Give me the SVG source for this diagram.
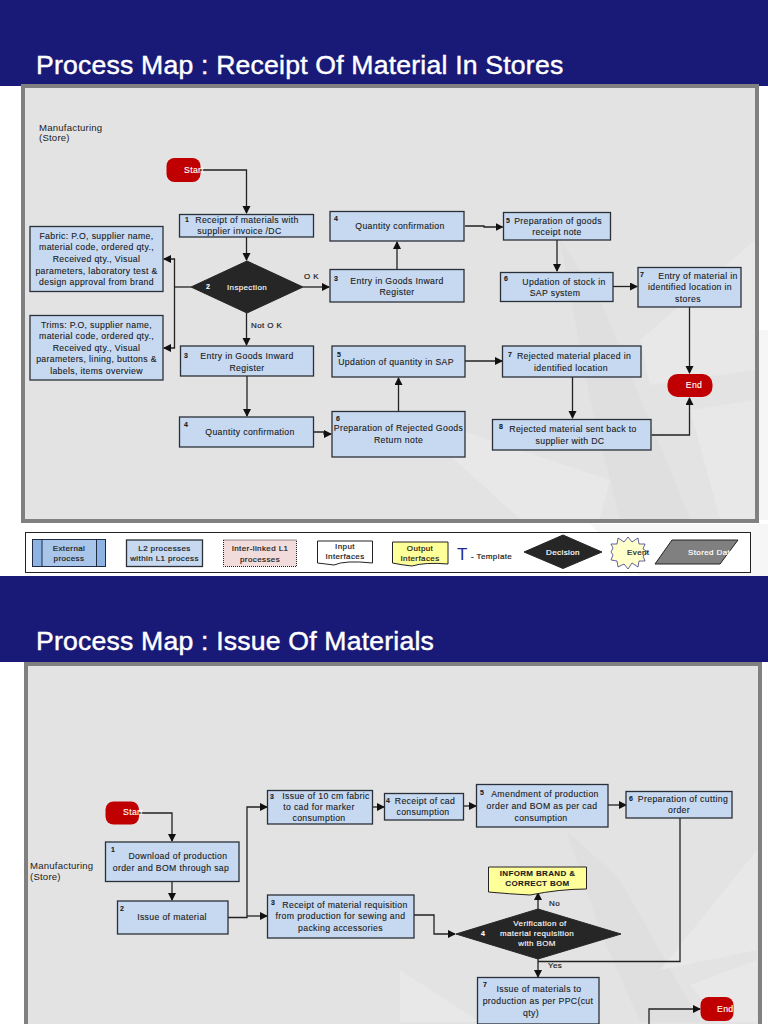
<svg xmlns="http://www.w3.org/2000/svg" width="768" height="1024" viewBox="0 0 768 1024">
<style>
text{font-family:"Liberation Sans",Arial,sans-serif;font-size:8.7px;fill:#1c1c1c;letter-spacing:.35px;stroke:#1c1c1c;stroke-width:.12px}
.c{text-anchor:middle}
.n{font-size:7px;font-weight:bold;letter-spacing:0}
.w{fill:#fff;stroke:#fff}
.t{font-size:26.600px;fill:#fff;letter-spacing:.2px;stroke:#fff;stroke-width:.45px}
.l{font-size:8px;letter-spacing:.4px;stroke-width:.2px}
.m{font-size:9.600px;letter-spacing:.2px;stroke-width:0}
.b{fill:#c6d9f1;stroke:#2b3038;stroke-width:1.3}
.d{fill:#262626;stroke:#262626}
.r{fill:#c00000}
.line{fill:none;stroke:#222;stroke-width:1.3;marker-end:url(#a)}
.plain{fill:none;stroke:#222;stroke-width:1.3}
.panel{fill:#e3e3e3;stroke:#808080;stroke-width:4}
.band{fill:#191978}
.shard{fill:#e8e8e8}
.shade{fill:#dfdfdf}
.pale{fill:#f6f6f6}
</style>
<defs>
<marker id="a" markerUnits="userSpaceOnUse" markerWidth="9" markerHeight="9" refX="7" refY="4" orient="auto"><path d="M0 0L8 4L0 8Z" fill="#111"/></marker>
</defs>
<rect width="768" height="1024" fill="#fff"/>
<polygon class="pale" points="759,330 768,330 768,520 759,520"/>
<polygon class="pale" points="590,524 768,524 768,576 640,576"/>
<g id="header1"><rect class="band" width="768" height="86"/><text class="t" x="36" y="74">Process Map : Receipt Of Material In Stores</text></g>
<g id="panel1">
<rect class="panel" x="23" y="86" width="734" height="435"/>
<polygon class="shade" points="560,240 600,300 690,519 620,519 590,400"/>
<polygon class="shard" points="690,410 755,400 755,519 720,519"/>
<polygon class="shard" points="400,410 610,480 600,519 520,519"/>
<polygon class="shard" points="755,240 640,340 650,385 755,370"/>
</g>
<g id="header2"><rect class="band" y="576" width="768" height="86"/><text class="t" x="36" y="650">Process Map : Issue Of Materials</text></g>
<g id="panel2">
<rect class="panel" x="26" y="664" width="734" height="364"/>
<polygon class="shade" points="566,830 620,880 700,1022 640,1022 600,930"/>
<polygon class="shard" points="400,970 480,1022 400,1022"/>
<polygon class="shard" points="690,985 757,960 757,1022 720,1022"/>
<polygon class="shard" points="757,850 660,970 757,950"/>
</g>
<g id="legend">
<rect x="25.500" y="532.500" width="725" height="40" fill="#fff" stroke="#222"/>
<g id="leg-external"><rect x="32.500" y="539.500" width="73" height="27" fill="#8db3e2" stroke="#1f2a44"/><rect x="42" y="539.500" width="54.500" height="27" fill="#a9c6ea" stroke="#1f2a44"/><text class="l c" x="69" y="551">External</text><text class="l c" x="69" y="561">process</text></g>
<g id="leg-l2"><rect x="126.500" y="540" width="76" height="26.500" class="b"/><text class="l c" x="164.500" y="551">L2 processes</text><text class="l c" x="164.500" y="561">within L1 process</text></g>
<g id="leg-linked"><rect x="223.500" y="540" width="73" height="26.500" fill="#f2dcdb" stroke="#222" stroke-dasharray="1 1"/><text class="l c" x="260" y="551">Inter-linked L1</text><text class="l c" x="260" y="562">processes</text></g>
<g id="leg-input"><path d="M317.500 541H372.500V563Q345 560 334 565Q326 564 317.500 563Z" fill="#fff" stroke="#222"/><text class="l c" x="345" y="549">Input</text><text class="l c" x="345" y="559">Interfaces</text></g>
<g id="leg-output"><path d="M392.500 542H448V564Q425 562 412 566Q402 565 392.500 563Z" fill="#ffff99" stroke="#222"/><text class="l c" x="420" y="551">Output</text><text class="l c" x="420" y="561">Interfaces</text></g>
<g id="leg-template"><text x="457" y="560" style="font-size:17px;fill:#1f2a8a;stroke:none">T</text><text class="l" x="471" y="559">- Template</text></g>
<g id="leg-decision"><polygon class="d" points="524,552 563,535 602,552 563,568.500"/><text class="l c w" x="563" y="555">Decision</text></g>
<g id="leg-event"><polygon points="628,537 632,542 638,538 639,544 645,544 643,549 648,552 643,556 645,561 639,561 638,567 632,563 628,569 624,564 618,567 617,561 611,560 613,555 611,552 613,548 611,544 617,544 618,538 624,542" fill="#ffffcc" stroke="#3c3c8c" stroke-width=".8"/><text class="l" x="627" y="555">Event</text></g>
<g id="leg-stored"><polygon points="672,540 738,540 720,564 655,564" fill="#808080" stroke="#222"/><text class="l w" x="688" y="555">Stored Data</text></g>
</g>
<g id="connectors">
<path class="line" d="M200 170H246.500V213"/>
<path class="line" d="M246.500 237V260"/>
<path class="plain" d="M191 287H174.500"/>
<path class="line" d="M174.500 287V259H164"/>
<path class="line" d="M174.500 287V348H164"/>
<path class="line" d="M303 287H329"/>
<path class="line" d="M246.500 313V345"/>
<path class="line" d="M247 376V416"/>
<path class="line" d="M314 432H324V434H331"/>
<path class="line" d="M397 269V242"/>
<path class="line" d="M465 226H484V227H502.500"/>
<path class="line" d="M557 240V271"/>
<path class="line" d="M613 286.500H637"/>
<path class="line" d="M689.500 307V373"/>
<path class="line" d="M651.500 435H689.500V398"/>
<path class="line" d="M465 361H502"/>
<path class="line" d="M398.500 411V378"/>
<path class="line" d="M572.500 377V418"/>
<path class="line" d="M139 813H172V841"/>
<path class="line" d="M172 881V900"/>
<path class="line" d="M228 917.500H247V807H267"/>
<path class="line" d="M247 916H267"/>
<path class="line" d="M372 807H384"/>
<path class="line" d="M463 806H476"/>
<path class="line" d="M608 805H626"/>
<path class="line" d="M414 915H434V934H455"/>
<path class="line" d="M538 909V893"/>
<path class="line" d="M538 959V977"/>
<path class="plain" d="M538 961.500H680V818"/>
<path class="line" d="M649 1024V1009H700"/>
</g>
<g id="label-manufacturing-1"><text class="m" x="39" y="131">Manufacturing</text><text class="m" x="39" y="141">(Store)</text></g>
<g id="start-1"><rect class="r" x="166.500" y="158" width="34" height="24" rx="8"/><text class="w" x="184" y="173">Start</text></g>
<g id="n1"><rect class="b" x="179.500" y="214.500" width="134" height="22.500"/><text class="n" x="185" y="222">1</text><text class="c" x="247" y="223">Receipt of materials with</text><text class="c" x="239.500" y="234">supplier invoice /DC</text></g>
<g id="n-fabric"><rect class="b" x="30" y="226.500" width="133" height="65"/><text class="c" x="96.500" y="239">Fabric: P.O, supplier name,</text><text class="c" x="96.500" y="250">material code, ordered qty.,</text><text class="c" x="96.500" y="262">Received qty., Visual</text><text class="c" x="96.500" y="274">parameters, laboratory test &amp;</text><text class="c" x="96.500" y="285">design approval from brand</text></g>
<g id="n-trims"><rect class="b" x="30" y="315.500" width="133" height="64.500"/><text class="c" x="96.500" y="328">Trims: P.O, supplier name,</text><text class="c" x="96.500" y="339">material code, ordered qty.,</text><text class="c" x="96.500" y="351">Received qty., Visual</text><text class="c" x="96.500" y="362">parameters, lining, buttons &amp;</text><text class="c" x="96.500" y="374">labels, items overview</text></g>
<g id="n2"><polygon class="d" points="191,287 247,261 303,287 247,313"/><text class="n w" x="206" y="289">2</text><text class="c w" x="247" y="290" style="font-size:8px">Inspection</text></g>
<text id="label-ok" x="304" y="279" class="l">O K</text>
<text id="label-notok" x="251" y="328" class="l">Not O K</text>
<g id="n3a"><rect class="b" x="330" y="269.500" width="134" height="32.500"/><text class="n" x="334" y="281">3</text><text class="c" x="397" y="284">Entry in Goods Inward</text><text class="c" x="397" y="295">Register</text></g>
<g id="n4a"><rect class="b" x="330" y="211.500" width="134" height="29.500"/><text class="n" x="334" y="221">4</text><text class="c" x="400" y="229">Quantity confirmation</text></g>
<g id="n5a"><rect class="b" x="503.500" y="212.500" width="107" height="27.500"/><text class="n" x="506" y="223">5</text><text class="c" x="558" y="224">Preparation of goods</text><text class="c" x="557" y="235">receipt note</text></g>
<g id="n6a"><rect class="b" x="500.500" y="272.500" width="112.500" height="29"/><text class="n" x="504" y="281">6</text><text class="c" x="564" y="285">Updation of stock in</text><text class="c" x="555" y="296">SAP system</text></g>
<g id="n7a"><rect class="b" x="638" y="267.500" width="103" height="39.500"/><text class="n" x="640" y="277">7</text><text class="c" x="698" y="279">Entry of material in</text><text class="c" x="690" y="290">identified location in</text><text class="c" x="688" y="302">stores</text></g>
<g id="n3b"><rect class="b" x="180.500" y="346" width="133" height="30"/><text class="n" x="184" y="358">3</text><text class="c" x="247" y="359">Entry in Goods Inward</text><text class="c" x="247" y="371">Register</text></g>
<g id="n5b"><rect class="b" x="332" y="346" width="133" height="31"/><text class="n" x="337" y="357">5</text><text class="c" x="396" y="365">Updation of quantity in SAP</text></g>
<g id="n7b"><rect class="b" x="502.500" y="346" width="138.500" height="31"/><text class="n" x="508" y="357">7</text><text class="c" x="574" y="359">Rejected material placed in</text><text class="c" x="571" y="371">identified location</text></g>
<g id="n4b"><rect class="b" x="179.500" y="417" width="134" height="30"/><text class="n" x="184" y="427">4</text><text class="c" x="250" y="435">Quantity confirmation</text></g>
<g id="n6b"><rect class="b" x="332" y="411.500" width="133" height="45.500"/><text class="n" x="336" y="421">6</text><text class="c" x="398.500" y="431">Preparation of Rejected Goods</text><text class="c" x="398.500" y="443">Return note</text></g>
<g id="n8b"><rect class="b" x="492.500" y="419.500" width="158.500" height="30.500"/><text class="n" x="499" y="429">8</text><text class="c" x="573" y="432">Rejected material sent back to</text><text class="c" x="570" y="444">supplier with DC</text></g>
<g id="end-1"><rect class="r" x="667.500" y="374" width="45" height="23" rx="10"/><text class="w c" x="694" y="388">End</text></g>
<g id="label-manufacturing-2"><text class="m" x="30" y="869">Manufacturing</text><text class="m" x="30" y="880">(Store)</text></g>
<g id="start-2"><rect class="r" x="105.500" y="801.500" width="33.500" height="23" rx="8"/><text class="w" x="123" y="815">Start</text></g>
<g id="m1"><rect class="b" x="105.500" y="842" width="133.500" height="39.500"/><text class="n" x="111" y="852">1</text><text class="c" x="178" y="859">Download of production</text><text class="c" x="171" y="871">order and BOM through sap</text></g>
<g id="m2"><rect class="b" x="117.500" y="901" width="110.500" height="33"/><text class="n" x="120" y="911">2</text><text class="c" x="172" y="920">Issue of material</text></g>
<g id="m3a"><rect class="b" x="267.500" y="790.500" width="105" height="33.500"/><text class="n" x="270" y="799">3</text><text class="c" x="326" y="799">Issue of 10 cm fabric</text><text class="c" x="319" y="810">to cad for marker</text><text class="c" x="319" y="821">consumption</text></g>
<g id="m3b"><rect class="b" x="267.500" y="895" width="146.500" height="43"/><text class="n" x="271" y="905">3</text><text class="c" x="345" y="908">Receipt of material requisition</text><text class="c" x="340.500" y="919">from production for sewing and</text><text class="c" x="340.500" y="931">packing accessories</text></g>
<g id="m4"><rect class="b" x="384.500" y="793.500" width="79" height="26.500"/><text class="n" x="386" y="803">4</text><text class="c" x="425" y="804">Receipt of cad</text><text class="c" x="423" y="815">consumption</text></g>
<g id="m5"><rect class="b" x="476.500" y="784.500" width="131.500" height="42.500"/><text class="n" x="480" y="795">5</text><text class="c" x="545" y="797">Amendment of production</text><text class="c" x="542" y="809">order and BOM as per cad</text><text class="c" x="541" y="821">consumption</text></g>
<g id="m6"><rect class="b" x="626" y="791.500" width="106" height="26.500"/><text class="n" x="629" y="801">6</text><text class="c" x="683" y="802">Preparation of cutting</text><text class="c" x="679" y="813">order</text></g>
<g id="m-inform"><path d="M488.500 867H586.500V889Q560 889 530 895Q510 894 488.500 892Z" fill="#ffff99" stroke="#222"/><text class="c" x="537.500" y="876" style="font-size:8px;font-weight:bold">INFORM BRAND &amp;</text><text class="c" x="537.500" y="886" style="font-size:8px;font-weight:bold">CORRECT BOM</text></g>
<text id="label-no" x="549" y="906" class="l">No</text>
<g id="m-verify"><polygon class="d" points="456,934 538,909 621,934 538,959"/><text class="n w" x="481" y="936">4</text><text class="c w" x="540" y="926" style="font-size:8px">Verification of</text><text class="c w" x="537" y="936" style="font-size:8px">material requisition</text><text class="c w" x="537" y="946" style="font-size:8px">with BOM</text></g>
<text id="label-yes" x="548" y="968" class="l">Yes</text>
<g id="m7"><rect class="b" x="477.500" y="977.500" width="121.500" height="46.500"/><text class="n" x="483" y="987">7</text><text class="c" x="539" y="992">Issue of materials to</text><text class="c" x="538" y="1004">production as per PPC(cut</text><text class="c" x="531" y="1016">qty)</text></g>
<g id="end-2"><rect class="r" x="700.500" y="997" width="33" height="24" rx="8"/><text class="w" x="717" y="1012">End</text></g>
</svg>
